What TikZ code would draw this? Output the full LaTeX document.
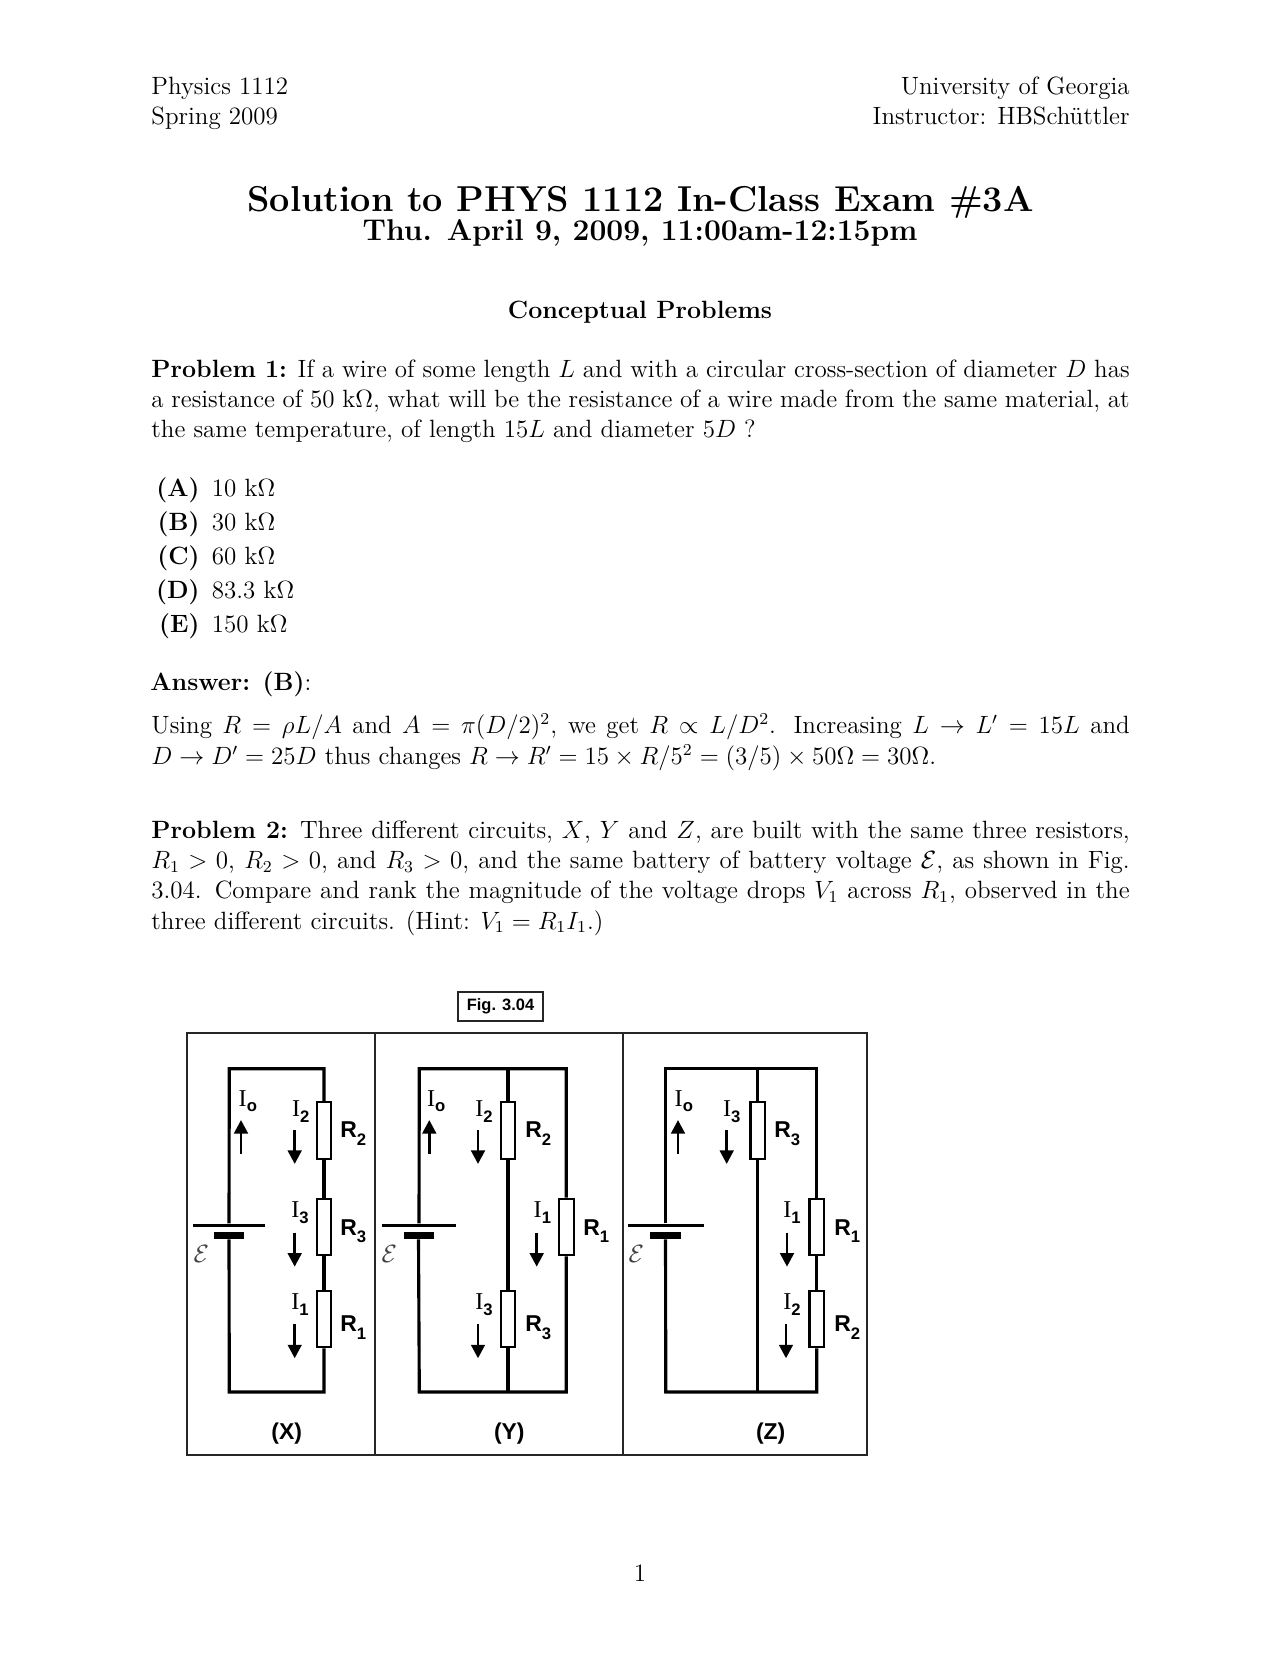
\documentclass[tikz,border=0pt]{standalone}
\usepackage{fontspec}
\usetikzlibrary{arrows.meta}
\newfontfamily\labsans{Liberation Sans}
\newfontfamily\labserif{Liberation Serif}
\newcommand{\curlab}[2][3.2pt]{{\fontsize{11.6}{12}\selectfont\labserif I}\raisebox{-#1}{\fontsize{8}{9}\selectfont\labsans\bfseries #2}}
\newcommand{\reslab}[1]{{\fontsize{11}{12}\selectfont\labsans\bfseries R}\raisebox{-3.5pt}{\fontsize{8}{9}\selectfont\labsans\bfseries #1}}
\begin{document}
\begin{tikzpicture}[x=0.4799pt,y=-0.4799pt,
        every node/.style={font=\fontsize{12}{14.5}\selectfont,inner sep=0pt},
        line/.style={anchor=base west},
        para/.style={anchor=north west,text width=469.5pt,align=justify},
        wire/.style={line width=1.5pt},
        panel/.style={draw=black!85,line width=0.9pt},
        resbox/.style={draw,line width=1pt,fill=white,minimum width=7pt,minimum height=27.2pt},
        longplate/.style={fill=black,minimum height=1.5pt},
        shortplate/.style={fill=black,minimum height=3.5pt},
        curarrow/.style={-{Triangle[length=6.5pt,width=6.5pt]},line width=1.4pt},
        emflab/.style={anchor=base west,text=black!75},
        panellab/.style={font=\fontsize{11}{12}\selectfont\labsans\bfseries}]
    \useasboundingbox (0,0) rectangle (1280,1656);

    % Header
    \node[line] (course) at (151,95) {Physics 1112};
    \node[line] (term) at (151,124.5) {Spring 2009};
    \node[anchor=base east] (school) at (1130,95) {University of Georgia};
    \node[anchor=base east] (teacher) at (1130,124.5) {Instructor: HBSch\"uttler};

    % Title
    \node[anchor=base] (title) at (640.5,212) {\fontsize{17.28}{20}\selectfont\bfseries Solution to PHYS 1112 In-Class Exam \#3A};
    \node[anchor=base] (date) at (640,241) {\fontsize{14.4}{17}\selectfont\bfseries Thu. April 9, 2009, 11:00am-12:15pm};
    \node[anchor=base] (section) at (640,319) {\bfseries Conceptual Problems};

    % Problem 1
    \node[para] (probone) at (151,359) {\textbf{Problem 1:} If a wire of some length $L$ and with a circular cross-section of diameter $D$ has a resistance of 50 k$\Omega$, what will be the resistance of a wire made from the same material, at the same temperature, of length $15L$ and diameter $5D$ ?};

    % Choices
    \node[anchor=base east] (choiceA) at (200,496.5) {\textbf{(A)}};
    \node[line] (valA) at (211.5,496.5) {10 k$\Omega$};
    \node[anchor=base east] (choiceB) at (200,530.5) {\textbf{(B)}};
    \node[line] (valB) at (211.5,530.5) {30 k$\Omega$};
    \node[anchor=base east] (choiceC) at (200,564.5) {\textbf{(C)}};
    \node[line] (valC) at (211.5,564.5) {60 k$\Omega$};
    \node[anchor=base east] (choiceD) at (200,598.5) {\textbf{(D)}};
    \node[line] (valD) at (211.5,598.5) {83.3 k$\Omega$};
    \node[anchor=base east] (choiceE) at (200,632.5) {\textbf{(E)}};
    \node[line] (valE) at (211.5,632.5) {150 k$\Omega$};

    % Answer
    \node[line] (answer) at (150,690.5) {\textbf{Answer: (B)}:};
    \node[para,font=\fontsize{12}{15}\selectfont] (working) at (151,713.5) {Using $R=\rho L/A$ and $A=\pi(D/2)^2$, we get $R\propto L/D^2$. Increasing $L\rightarrow L'=15L$ and $D\rightarrow D'=25D$ thus changes $R\rightarrow R'=15\times R/5^2=(3/5)\times 50\Omega=30\Omega$.};

    % Problem 2
    \node[para] (probtwo) at (151,820.5) {\textbf{Problem 2:} Three different circuits, $X$, $Y$ and $Z$, are built with the same three resistors, $R_1>0$, $R_2>0$, and $R_3>0$, and the same battery of battery voltage $\mathcal{E}$, as shown in Fig. 3.04. Compare and rank the magnitude of the voltage drops $V_1$ across $R_1$, observed in the three different circuits. (Hint: $V_1=R_1I_1$.)};

    % Figure frame
    \node[draw=black!85,line width=0.9pt,minimum width=40.5pt,minimum height=14.3pt,font=\fontsize{7.9}{10}\selectfont\labsans\bfseries] (figtag) at (500.5,1006.5) {Fig. 3.04};
    \coordinate (frameNW) at (186.7,1033);
    \coordinate (frameSE) at (867.3,1455.3);
    \coordinate (divXt) at (375,1033);
    \coordinate (divXb) at (375,1455.3);
    \coordinate (divYt) at (622.7,1033);
    \coordinate (divYb) at (622.7,1455.3);
    \draw[panel] (frameNW) rectangle (frameSE);
    \draw[panel] (divXt) -- (divXb);
    \draw[panel] (divYt) -- (divYb);

    % Circuit X
    \node[resbox] (XRtwo) at (324,1130.5) {};
    \node[resbox] (XRthree) at (324,1227) {};
    \node[resbox] (XRone) at (324,1319) {};
    \node[longplate,minimum width=34.6pt] (Xlong) at (229,1225.3) {};
    \node[shortplate,minimum width=14.2pt] (Xshort) at (229,1235.3) {};
    \coordinate (XNW) at (229.3,1068.7);
    \coordinate (XNE) at (324,1068.7);
    \coordinate (XSW) at (229.3,1392);
    \coordinate (XSE) at (324,1392);
    \draw[wire] (Xlong.north) -- (XNW) -- (XNE) -- (XRtwo.north);
    \draw[wire] (XRtwo.south) -- (XRthree.north);
    \draw[wire] (XRthree.south) -- (XRone.north);
    \draw[wire] (XRone.south) -- (XSE) -- (XSW) -- (Xshort.south);
    \node[emflab] (Xemf) at (193.3,1262) {$\mathcal{E}$};
    \node[line] (XIo) at (238.3,1106) {\curlab[2.4pt]{o}};
    \node[line] (XItwo) at (291.7,1116) {\curlab{2}};
    \node[line] (XIthree) at (291,1217.3) {\curlab{3}};
    \node[line] (XIone) at (291,1309.3) {\curlab{1}};
    \node[line] (XRtwolab) at (340,1137.7) {\reslab{2}};
    \node[line] (XRthreelab) at (340,1235) {\reslab{3}};
    \node[line] (XRonelab) at (340,1331.7) {\reslab{1}};
    \coordinate (XIoa) at (241,1153.7); \coordinate (XIob) at (241,1120);
    \draw[curarrow] (XIoa) -- (XIob);
    \coordinate (XItwoa) at (294.7,1130); \coordinate (XItwob) at (294.7,1164);
    \draw[curarrow] (XItwoa) -- (XItwob);
    \coordinate (XIthreea) at (294.7,1232.7); \coordinate (XIthreeb) at (294.7,1266.7);
    \draw[curarrow] (XIthreea) -- (XIthreeb);
    \coordinate (XIonea) at (294.7,1324); \coordinate (XIoneb) at (294.7,1358.3);
    \draw[curarrow] (XIonea) -- (XIoneb);
    \node[panellab] (Xname) at (286.7,1433.3) {(X)};

    % Circuit Y
    \node[resbox] (YRtwo) at (508,1130.5) {};
    \node[resbox] (YRone) at (566.3,1227) {};
    \node[resbox] (YRthree) at (508,1319) {};
    \node[longplate,minimum width=35.2pt] (Ylong) at (419,1225.3) {};
    \node[shortplate,minimum width=14.4pt] (Yshort) at (418.5,1235.3) {};
    \coordinate (YNW) at (419.3,1068.7);
    \coordinate (YNM) at (508,1068.7);
    \coordinate (YNE) at (566.3,1068.7);
    \coordinate (YSW) at (419.3,1392);
    \coordinate (YSM) at (508,1392);
    \coordinate (YSE) at (566.3,1392);
    \draw[wire] (Ylong.north) -- (YNW) -- (YNE) -- (YRone.north);
    \draw[wire] (YNM) -- (YRtwo.north);
    \draw[wire] (YRtwo.south) -- (YRthree.north);
    \draw[wire] (YRthree.south) -- (YSM);
    \draw[wire] (YRone.south) -- (YSE) -- (YSW) -- (Yshort.south);
    \node[emflab] (Yemf) at (381.3,1262) {$\mathcal{E}$};
    \node[line] (YIo) at (426.7,1106) {\curlab[2.4pt]{o}};
    \node[line] (YItwo) at (475,1116) {\curlab{2}};
    \node[line] (YIone) at (533.3,1217.3) {\curlab{1}};
    \node[line] (YIthree) at (475,1309.3) {\curlab{3}};
    \node[line] (YRtwolab) at (525,1137.7) {\reslab{2}};
    \node[line] (YRonelab) at (583,1235) {\reslab{1}};
    \node[line] (YRthreelab) at (525,1331.7) {\reslab{3}};
    \coordinate (YIoa) at (429.3,1153.7); \coordinate (YIob) at (429.3,1120);
    \draw[curarrow] (YIoa) -- (YIob);
    \coordinate (YItwoa) at (478,1130); \coordinate (YItwob) at (478,1164);
    \draw[curarrow] (YItwoa) -- (YItwob);
    \coordinate (YIonea) at (536.7,1232.7); \coordinate (YIoneb) at (536.7,1266.7);
    \draw[curarrow] (YIonea) -- (YIoneb);
    \coordinate (YIthreea) at (478,1324); \coordinate (YIthreeb) at (478,1358.3);
    \draw[curarrow] (YIthreea) -- (YIthreeb);
    \node[panellab] (Yname) at (509.3,1433.3) {(Y)};

    % Circuit Z
    \node[resbox] (ZRthree) at (757.8,1130.5) {};
    \node[resbox] (ZRone) at (816.8,1227) {};
    \node[resbox] (ZRtwo) at (816.8,1319) {};
    \node[longplate,minimum width=36.2pt] (Zlong) at (665.8,1225.3) {};
    \node[shortplate,minimum width=14.7pt] (Zshort) at (665.5,1235.3) {};
    \coordinate (ZNW) at (665.8,1068.7);
    \coordinate (ZNM) at (757.8,1068.7);
    \coordinate (ZNE) at (816.8,1068.7);
    \coordinate (ZSW) at (665.8,1392);
    \coordinate (ZSM) at (757.8,1392);
    \coordinate (ZSE) at (816.8,1392);
    \draw[wire] (Zlong.north) -- (ZNW) -- (ZNE) -- (ZRone.north);
    \draw[wire] (ZNM) -- (ZRthree.north);
    \draw[wire] (ZRthree.south) -- (ZSM);
    \draw[wire] (ZRone.south) -- (ZRtwo.north);
    \draw[wire] (ZRtwo.south) -- (ZSE) -- (ZSW) -- (Zshort.south);
    \node[emflab] (Zemf) at (628.3,1262) {$\mathcal{E}$};
    \node[line] (ZIo) at (674.3,1106) {\curlab[2.4pt]{o}};
    \node[line] (ZIthree) at (722.7,1116) {\curlab{3}};
    \node[line] (ZIone) at (783,1217.3) {\curlab{1}};
    \node[line] (ZItwo) at (783,1309.3) {\curlab{2}};
    \node[line] (ZRthreelab) at (774,1137.7) {\reslab{3}};
    \node[line] (ZRonelab) at (834,1235) {\reslab{1}};
    \node[line] (ZRtwolab) at (834,1331.7) {\reslab{2}};
    \coordinate (ZIoa) at (678,1153.7); \coordinate (ZIob) at (678,1120);
    \draw[curarrow] (ZIoa) -- (ZIob);
    \coordinate (ZIthreea) at (726.7,1130); \coordinate (ZIthreeb) at (726.7,1164);
    \draw[curarrow] (ZIthreea) -- (ZIthreeb);
    \coordinate (ZIonea) at (787,1232.7); \coordinate (ZIoneb) at (787,1266.7);
    \draw[curarrow] (ZIonea) -- (ZIoneb);
    \coordinate (ZItwoa) at (786,1324); \coordinate (ZItwob) at (786,1358.3);
    \draw[curarrow] (ZItwoa) -- (ZItwob);
    \node[panellab] (Zname) at (770.7,1433.3) {(Z)};

    % Page number
    \node[anchor=base] (pagenum) at (640,1581) {1};
\end{tikzpicture}
\end{document}
